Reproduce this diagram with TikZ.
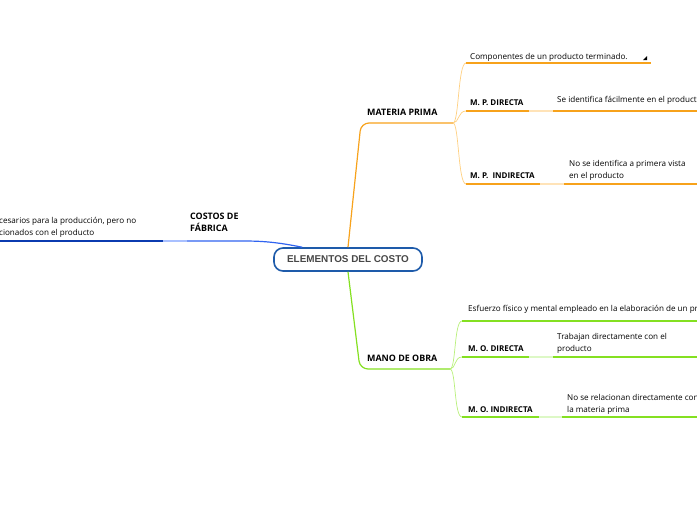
\documentclass[tikz,border=0pt]{standalone}
\usepackage{fontspec}
\setmainfont{Open Sans}
\newfontfamily\rootfont{Liberation Sans}
\usetikzlibrary{positioning}
\definecolor{rootblue}{HTML}{1E5BAA}
\definecolor{rootgray}{HTML}{474747}
\definecolor{mporange}{HTML}{F7A21B}
\definecolor{mplight}{HTML}{FFD080}
\definecolor{mppale}{HTML}{FFE3B8}
\definecolor{mogreen}{HTML}{84E021}
\definecolor{molight}{HTML}{B8F07A}
\definecolor{mopale}{HTML}{DDF8C6}
\definecolor{cfblue}{HTML}{2F63F0}
\definecolor{cfdark}{HTML}{0B3BB0}
\definecolor{cfpale}{HTML}{A9C0FF}
\tikzset{
    root/.style={
        draw=rootblue,
        line width=1.6pt,
        rounded corners=9pt,
        fill=white,
        minimum width=148pt,
        minimum height=23pt,
        text=rootgray,
        font=\rootfont\bfseries\fontsize{9.9}{11}\selectfont
    },
    topic/.style={
        anchor=base west,
        inner sep=0pt,
        align=left,
        font=\bfseries\fontsize{8.9}{12}\selectfont
    },
    subtopic/.style={
        anchor=base west,
        inner sep=0pt,
        font=\bfseries\fontsize{8}{12}\selectfont
    },
    leaf/.style={
        anchor=base west,
        inner sep=0pt,
        align=left,
        font=\fontsize{8.1}{12}\selectfont
    }
}

\begin{document}
\begin{tikzpicture}[x=1pt, y=-1pt]
    \path[use as bounding box] (0,0) rectangle (697,520);
    \clip (0,0) rectangle (697,520);

    % Central topic
    \node[root] (costo) at (348,259.5) {ELEMENTOS DEL COSTO};

    % Materia prima
    \node[topic] (mp) at (367,115.5) {MATERIA PRIMA};
    \coordinate (mpA) at (361,123);
    \coordinate (mpB) at (453,123);
    \node[leaf] (mp0) at (470,59.5) {Componentes de un producto terminado.};
    \coordinate (mp0A) at (466,63);
    \coordinate (mp0B) at (651,63);
    \node[subtopic] (mp1) at (470,105) {M. P. DIRECTA};
    \coordinate (mp1A) at (466,111);
    \coordinate (mp1B) at (529,111);
    \node[leaf] (mp1t) at (557,102) {Se identifica fácilmente en el producto};
    \coordinate (mp1C) at (553,111);
    \coordinate (mp1D) at (697,111);
    \node[subtopic] (mp2) at (470,178) {M. P.\ \ INDIRECTA};
    \coordinate (mp2A) at (466,184);
    \coordinate (mp2B) at (540,184);
    \node[leaf] (mp2t) at (569,178) {No se identifica a primera vista\\en el producto};
    \coordinate (mp2C) at (564,184);
    \coordinate (mp2D) at (697,184);

    \draw[mporange, line width=1.2pt, rounded corners=8pt] (costo.north) -- (mpA) -- (mpB);
    \draw[mplight, line width=0.7pt] (mpB) .. controls +(6,0) and +(-8,0) .. (mp0A);
    \draw[mplight, line width=0.7pt] (mpB) .. controls +(6,0) and +(-8,0) .. (mp1A);
    \draw[mplight, line width=0.7pt] (mpB) .. controls +(6,0) and +(-8,0) .. (mp2A);
    \draw[mporange, line width=1.2pt] (mp0A) -- (mp0B);
    \draw[mporange, line width=1.2pt] (mp1A) -- (mp1B);
    \draw[mppale, line width=1.2pt] (mp1B) -- (mp1C);
    \draw[mporange, line width=1.2pt] (mp1C) -- (mp1D);
    \draw[mporange, line width=1.2pt] (mp2A) -- (mp2B);
    \draw[mppale, line width=1.2pt] (mp2B) -- (mp2C);
    \draw[mporange, line width=1.2pt] (mp2C) -- (mp2D);
    \fill (643,60) -- (647,60) -- (647,56) -- cycle;

    % Mano de obra
    \node[topic] (mo) at (367,361.5) {MANO DE OBRA};
    \coordinate (moA) at (360,369);
    \coordinate (moB) at (450,369);
    \node[leaf] (mo0) at (468,311) {Esfuerzo físico y mental empleado en la elaboración de un producto};
    \coordinate (mo0A) at (462,321);
    \coordinate (mo0B) at (697,321);
    \node[subtopic] (mo1) at (468,351.5) {M. O. DIRECTA};
    \coordinate (mo1A) at (462,357);
    \coordinate (mo1B) at (529,357);
    \node[leaf] (mo1t) at (557,351) {Trabajan directamente con el\\producto};
    \coordinate (mo1C) at (553,357);
    \coordinate (mo1D) at (697,357);
    \node[subtopic] (mo2) at (468,412.5) {M. O. INDIRECTA};
    \coordinate (mo2A) at (462,417);
    \coordinate (mo2B) at (539,417);
    \node[leaf] (mo2t) at (567,412) {No se relacionan directamente con\\la materia prima};
    \coordinate (mo2C) at (562,417);
    \coordinate (mo2D) at (697,417);

    \draw[mogreen, line width=1.2pt, rounded corners=8pt] (costo.south) -- (moA) -- (moB);
    \draw[molight, line width=0.7pt] (moB) .. controls +(6,0) and +(-8,0) .. (mo0A);
    \draw[molight, line width=0.7pt] (moB) .. controls +(6,0) and +(-8,0) .. (mo1A);
    \draw[molight, line width=0.7pt] (moB) .. controls +(6,0) and +(-8,0) .. (mo2A);
    \draw[mogreen, line width=1.2pt] (mo0A) -- (mo0B);
    \draw[mogreen, line width=1.2pt] (mo1A) -- (mo1B);
    \draw[mopale, line width=1.2pt] (mo1B) -- (mo1C);
    \draw[mogreen, line width=1.2pt] (mo1C) -- (mo1D);
    \draw[mogreen, line width=1.2pt] (mo2A) -- (mo2B);
    \draw[mopale, line width=1.2pt] (mo2B) -- (mo2C);
    \draw[mogreen, line width=1.2pt] (mo2C) -- (mo2D);

    % Costos de fabrica
    \node[topic] (cf) at (190,231.5) {COSTOS DE\\FÁBRICA};
    \coordinate (cfA) at (243,241);
    \coordinate (cfB) at (187,241);
    \coordinate (cfC) at (163,241);
    \coordinate (cfD) at (0,241);
    \node[leaf] (cft) at (-1,235) {cesarios para la producción, pero no\\cionados con el producto};

    \draw[cfblue, line width=1.2pt] (costo.north west) ++(29,0) coordinate (cfS)
        .. controls +(-25,-5) and +(20,0) .. (cfA) -- (cfB);
    \draw[cfpale, line width=1.2pt] (cfB) -- (cfC);
    \draw[cfdark, line width=1.2pt] (cfC) -- (cfD);
\end{tikzpicture}
\end{document}
